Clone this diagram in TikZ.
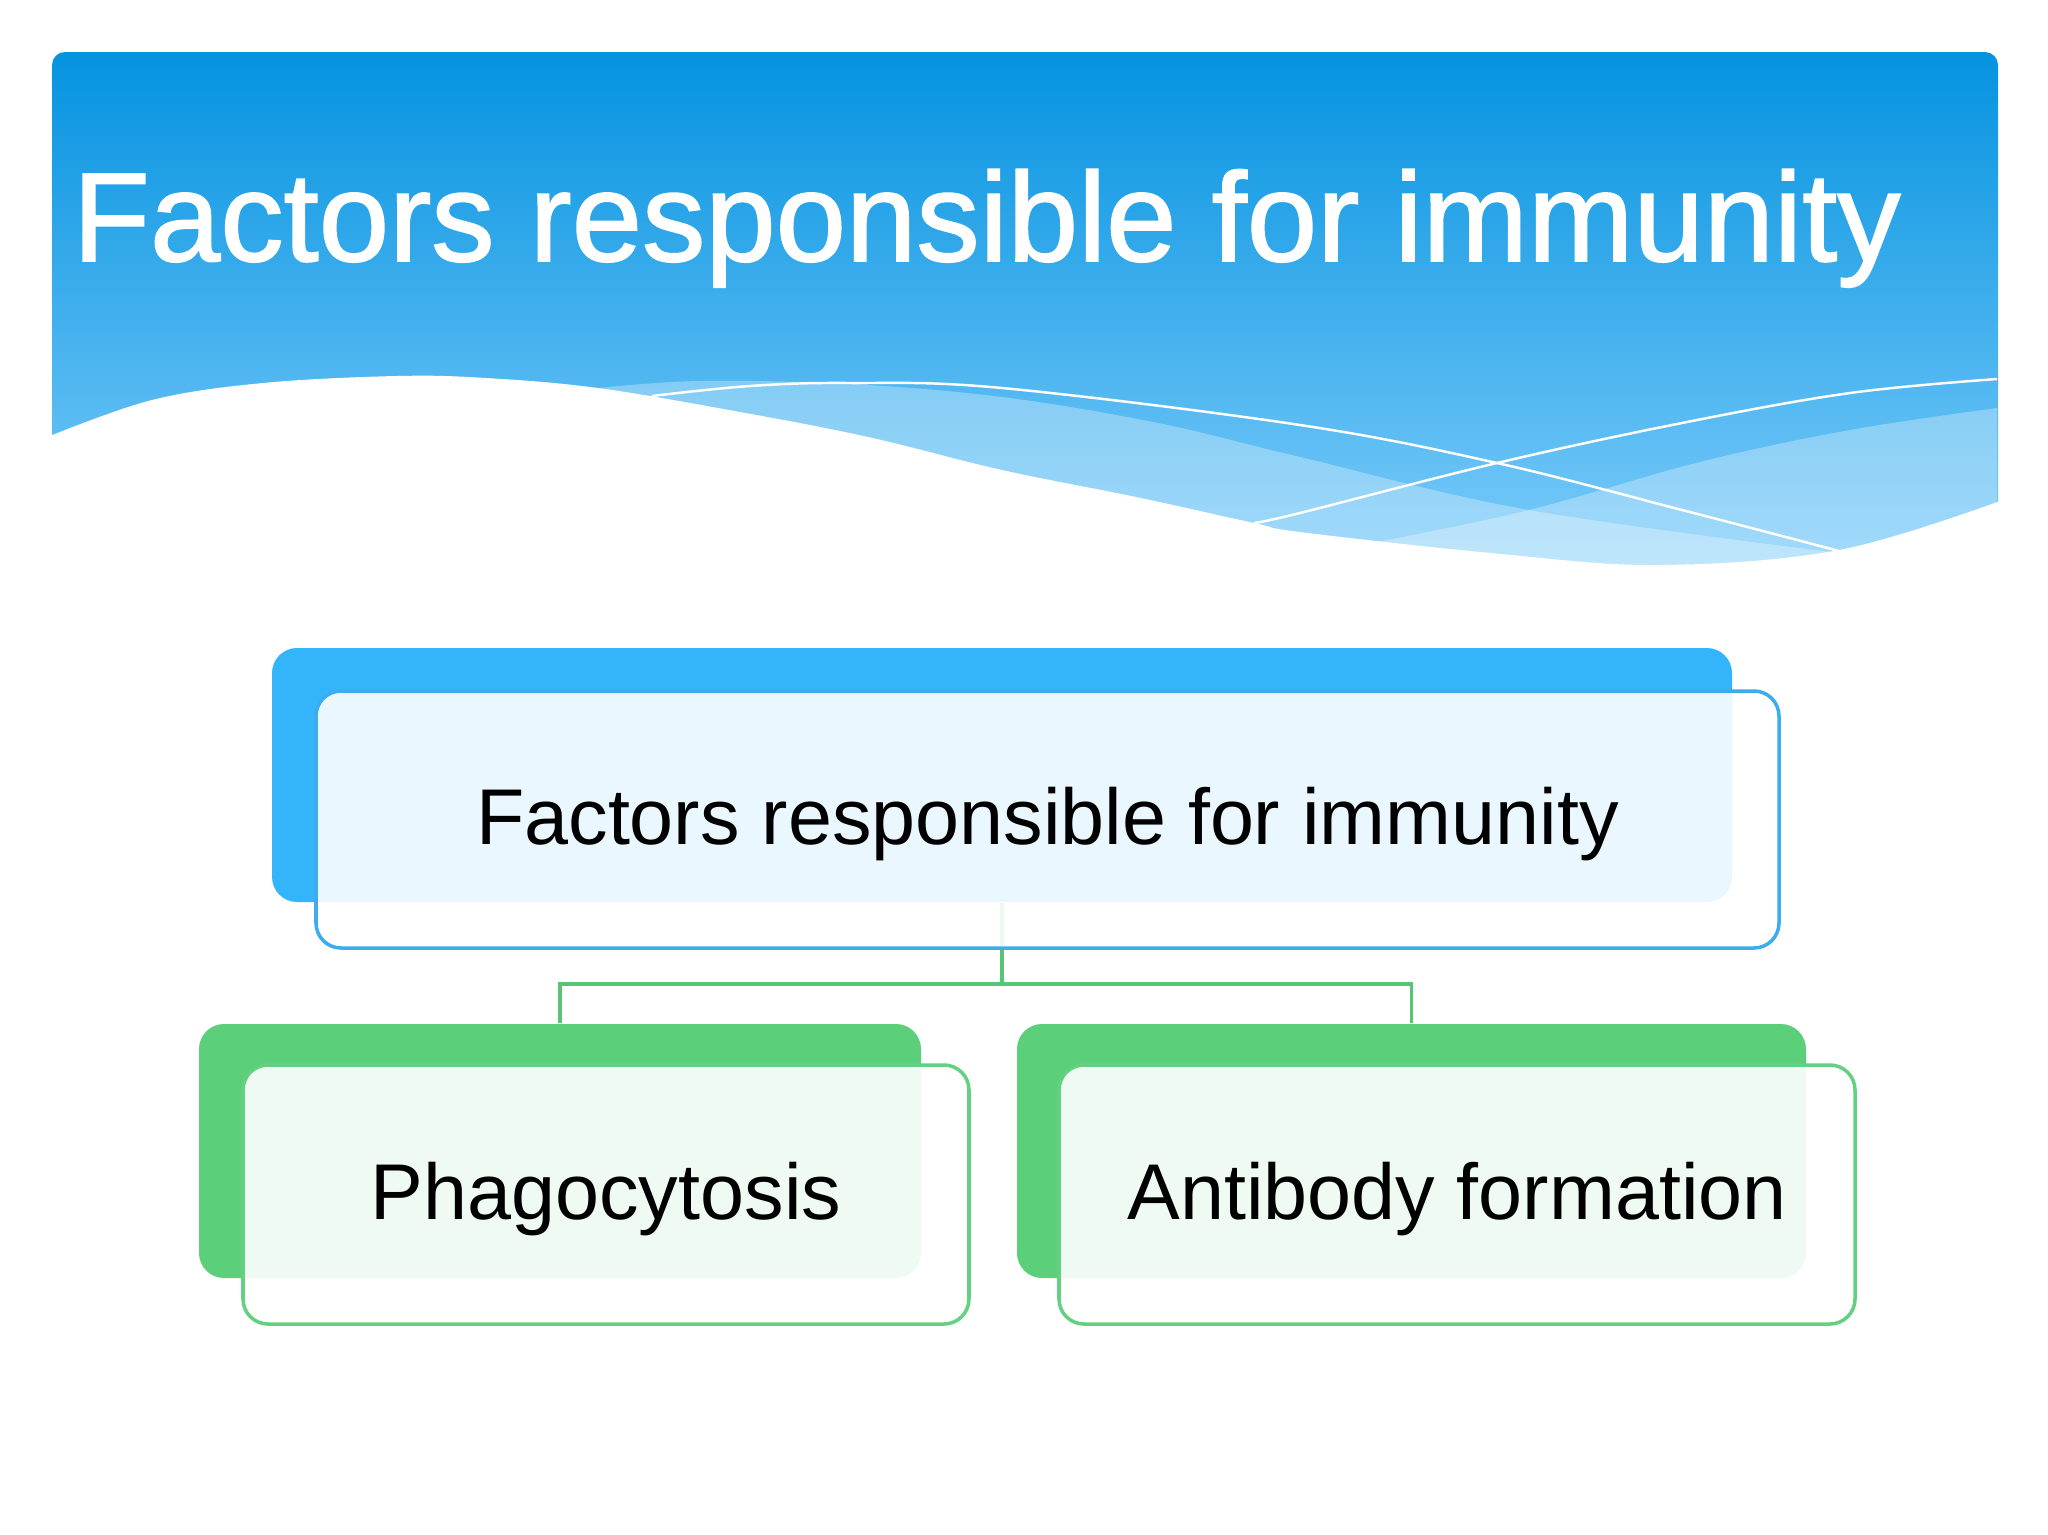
\documentclass[tikz,border=0pt]{standalone}
\usepackage{fontspec}
\setmainfont{Liberation Sans}
\newfontfamily\headfont[FakeBold=1.3]{Liberation Sans}
\usetikzlibrary{positioning}
\definecolor{skytop}{RGB}{5,147,224}
\definecolor{skybottom}{RGB}{125,204,250}
\definecolor{rootblue}{RGB}{52,181,251}
\definecolor{rootline}{RGB}{60,172,236}
\definecolor{leafgreen}{RGB}{92,207,123}
\definecolor{leafline}{RGB}{100,208,130}

\begin{document}
\begin{tikzpicture}[
  rootback/.style={fill=rootblue, rounded corners=0.25cm, inner sep=0pt,
                   minimum height=2.54cm},
  rootfront/.style={draw=rootline, line width=1pt, fill=white, fill opacity=0.9,
                    text opacity=1, rounded corners=0.25cm, inner sep=0pt,
                    minimum height=2.57cm, text height=0.5cm, text depth=0pt,
                    font=\fontsize{22.5}{27}\selectfont},
  leafback/.style={rootback, fill=leafgreen},
  leaffront/.style={rootfront, draw=leafline, minimum height=2.59cm},
  link/.style={draw=leafgreen!95!black, line width=1pt},
  band/.style={fill=white, fill opacity=0.3},
  wave/.style={draw=white, line width=0.7pt}]

  \useasboundingbox[fill=white] (0,0) rectangle (20.48,-15.35);

  % header banner
  \shade[top color=skytop, bottom color=skybottom, rounded corners=0.13cm]
        (0.52,-0.52) rectangle (19.98,-5.75);
  \fill[band] plot[smooth, tension=0.6] coordinates {(5.98,-3.88) (7.00,-3.81)
        (8.50,-3.84) (10.02,-3.97) (11.58,-4.23) (13.00,-4.57) (15.29,-5.10) (18.39,-5.53)}
        -- (18.39,-5.9) -- (5.98,-5.9) -- cycle;
  \fill[band] plot[smooth, tension=0.6] coordinates {(13.72,-5.43) (15.29,-5.10)
        (17.00,-4.62) (18.50,-4.30) (19.97,-4.08)}
        -- (19.97,-5.9) -- (13.72,-5.9) -- cycle;
  \fill[white] plot[smooth, tension=0.6] coordinates {(0.50,-4.36) (1.52,-4.00)
        (2.63,-3.83) (3.97,-3.76) (4.86,-3.78) (5.98,-3.88) (7.40,-4.12) (8.68,-4.37)
        (10.02,-4.70) (11.36,-4.97) (12.54,-5.23) (13.00,-5.32) (14.91,-5.53)
        (16.58,-5.65) (18.39,-5.50) (20.00,-5.01)}
        -- (20.1,-6.1) -- (0.4,-6.1) -- cycle;
  \draw[wave] plot[smooth, tension=0.6] coordinates {(6.52,-3.96) (7.50,-3.86)
        (8.50,-3.83) (10.02,-3.88) (13.00,-4.25) (14.97,-4.63)
        (16.82,-5.10) (18.39,-5.51)};
  \draw[wave] plot[smooth, tension=0.6] coordinates {(12.54,-5.23) (13.00,-5.13)
        (14.97,-4.63) (16.82,-4.23) (18.50,-3.93) (19.97,-3.79)};

  \node[anchor=base west, inner sep=0pt, text=white, font=\headfont\fontsize{36}{43}\selectfont]
        (title) at (0.72,-2.61) {Factors responsible for immunity};

  % hierarchy
  \node[rootback, minimum width=14.60cm] (rootb)  at (10.02,-7.75)  {};
  \node[leafback, minimum width=7.22cm]  (leftb)  at (5.60,-11.51)  {};
  \node[leafback, minimum width=7.89cm]  (rightb) at (14.115,-11.51) {};

  \coordinate (fork) at (10.02,-9.84);
  \draw[link] (rootb.south) -- (fork);
  \draw[link] (fork) -| (leftb.north);
  \draw[link] (fork) -| (rightb.north);

  \node[rootfront, minimum width=14.63cm] (rootf)  at (10.475,-8.195) {Factors responsible for immunity};
  \node[leaffront, minimum width=7.26cm]  (leftf)  at (6.06,-11.945)  {Phagocytosis};
  \node[leaffront, minimum width=7.96cm]  (rightf) at (14.57,-11.945) {Antibody formation};
\end{tikzpicture}
\end{document}
